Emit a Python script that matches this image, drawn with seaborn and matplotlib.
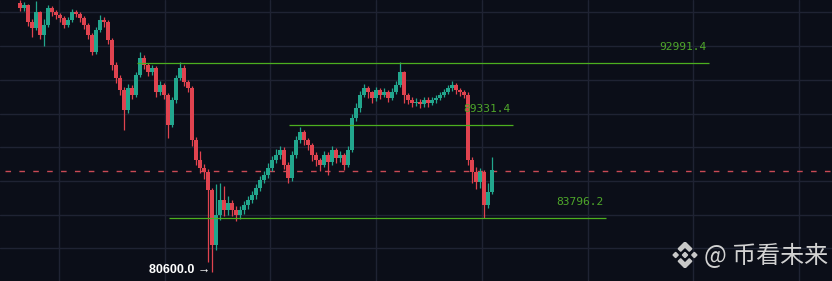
import numpy as np
import pandas as pd
import matplotlib
matplotlib.use("Agg")
import matplotlib.pyplot as plt
from matplotlib.patches import Polygon
import seaborn as sns

# ---- data (prices in thousand USDT) ----
first_open = 96.55
closes = [96.26, 96.43, 95.43, 95.07, 96.02, 94.65, 95.25, 96.26, 96.02, 95.84,
          95.66, 95.25, 95.54, 96.02, 95.90, 95.66, 95.25, 94.65, 93.65, 94.95,
          95.54, 95.43, 94.36, 92.88, 92.10, 91.39, 90.21, 91.51, 91.10, 92.28,
          93.29, 92.88, 92.46, 92.70, 91.27, 91.69, 91.10, 89.32, 90.80, 92.10,
          92.70, 91.87, 91.51, 88.43, 87.24, 86.77, 86.53, 85.46, 82.20, 83.98,
          84.87, 84.28, 84.69, 84.28, 83.98, 84.28, 84.57, 84.87, 85.17, 85.58,
          86.06, 86.35, 86.77, 87.24, 87.54, 87.84, 86.95, 86.17, 87.54, 88.43,
          88.90, 88.43, 88.13, 87.54, 87.24, 86.95, 87.54, 87.12, 87.84, 87.36,
          87.54, 86.95, 87.84, 89.73, 90.33, 91.10, 91.51, 91.27, 90.92, 91.39,
          91.10, 91.27, 90.92, 91.27, 91.69, 92.46, 91.10, 90.80, 90.62, 90.68,
          90.56, 90.80, 90.62, 90.80, 90.92, 91.10, 91.27, 91.51, 91.69, 91.39,
          91.27, 91.10, 87.24, 86.53, 85.94, 86.53, 84.57, 85.34, 86.65]
highs = [96.73, 96.60, 96.50, 95.60, 96.70, 96.10, 95.60, 96.45, 96.40, 96.15,
         95.95, 95.80, 95.70, 96.20, 96.15, 96.00, 95.80, 95.35, 94.80, 95.15,
         95.85, 95.70, 95.55, 94.50, 93.05, 92.30, 91.55, 91.75, 91.70, 92.45,
         93.65, 93.45, 93.00, 92.90, 92.80, 91.90, 91.80, 91.20, 91.00, 92.30,
         93.05, 92.85, 92.00, 91.65, 88.60, 87.80, 87.00, 86.70, 85.60, 85.80,
         85.90, 85.70, 85.10, 84.90, 84.50, 84.50, 84.80, 85.10, 85.40, 85.80,
         86.30, 86.60, 87.05, 87.50, 87.90, 88.10, 88.00, 87.10, 87.75, 88.65,
         89.20, 89.05, 88.55, 88.25, 87.70, 87.35, 87.75, 87.70, 88.05, 87.95,
         87.80, 87.65, 88.05, 89.95, 90.60, 91.35, 91.75, 91.65, 91.35, 91.60,
         91.50, 91.50, 91.40, 91.50, 91.90, 93.05, 92.55, 91.20, 90.95, 90.90,
         90.85, 91.00, 90.95, 91.00, 91.10, 91.30, 91.45, 91.70, 91.90, 91.80,
         91.50, 91.40, 91.25, 87.40, 86.80, 86.75, 86.65, 85.90, 87.42]
lows = [96.10, 96.05, 95.20, 94.55, 94.95, 94.40, 94.00, 95.10, 95.80, 95.60,
        95.40, 95.05, 95.10, 95.45, 95.70, 95.45, 95.00, 94.40, 93.45, 93.55,
        94.85, 95.10, 94.10, 92.60, 91.80, 91.10, 89.02, 90.05, 90.85, 90.95,
        92.15, 92.65, 92.20, 92.30, 91.00, 91.10, 90.85, 88.55, 89.20, 90.65,
        92.00, 91.65, 91.30, 88.10, 86.95, 86.45, 86.10, 81.19, 80.60, 81.90,
        83.70, 83.95, 84.00, 83.95, 83.60, 83.75, 84.05, 84.35, 84.70, 84.95,
        85.40, 85.90, 86.15, 86.60, 87.05, 87.30, 86.70, 85.90, 86.00, 87.35,
        88.25, 88.15, 87.85, 87.20, 86.90, 86.60, 86.80, 86.35, 86.95, 87.05,
        87.10, 86.65, 86.80, 87.70, 89.55, 90.10, 91.00, 90.90, 90.60, 90.75,
        90.85, 90.95, 90.70, 90.80, 91.15, 91.55, 90.60, 90.55, 90.40, 90.45,
        90.35, 90.40, 90.40, 90.50, 90.65, 90.80, 91.00, 91.15, 91.35, 91.15,
        91.05, 90.90, 86.95, 85.90, 85.50, 85.60, 83.80, 84.40, 85.20]

levels = [92991.4, 89331.4, 83796.2]
level_labels = ["92991.4", "89331.4", "83796.2"]
level_start = [29.25, 67.25, 37.25]
level_end = [172.25, 123.25, 146.5]
dash_level = 86590.0
low_value = 80600.0
low_index = 48
low_label = "80600.0 \u2192"
watermark = "@ 币看未来"

# ---- styling ----
BG = "#0b0e18"
GRID = "#1f2333"
UP = "#22a68d"
DOWN = "#e0434f"
LEVEL = "#4caf1f"
LEVEL_TXT = "#4ea62a"

sns.set_theme(style="dark", rc={"axes.facecolor": BG, "figure.facecolor": BG})
plt.rcParams["font.family"] = ["Noto Sans CJK SC", "DejaVu Sans"]

opens = [first_open] + closes[:-1]
df = pd.DataFrame({
    "i": np.arange(len(closes)),
    "open": np.array(opens) * 1000,
    "close": np.array(closes) * 1000,
    "high": np.array(highs) * 1000,
    "low": np.array(lows) * 1000,
})
df["up"] = df["close"] >= df["open"]
df["color"] = np.where(df["up"], UP, DOWN)
df["body_lo"] = df[["open", "close"]].min(axis=1)
df["body_h"] = (df["close"] - df["open"]).abs().clip(lower=60)

fig = plt.figure(figsize=(8.32, 2.81), dpi=100)
ax = fig.add_axes([0, 0, 1, 1])
ax.set_facecolor(BG)

ax.set_xticks(np.arange(9.75, 203, 26.425))
ax.set_yticks(np.arange(80000, 98001, 2000))
ax.set_xlim(-5, 203)
ax.set_ylim(80070, 96730)
ax.tick_params(length=0, labelleft=False, labelbottom=False)
ax.grid(True, color=GRID, linewidth=1.0)
for s in ax.spines.values():
    s.set_visible(False)

# dashed reference line
ax.axhline(dash_level, xmin=5 / 832, xmax=1, color="#c94a55",
           linewidth=1.0, dashes=(4.0, 6.0), zorder=2)

# candles
ax.vlines(df["i"], df["low"], df["high"], colors=df["color"], linewidth=0.9, zorder=3)
ax.bar(df["i"], df["body_h"], bottom=df["body_lo"], width=0.8,
       color=df["color"], linewidth=0, zorder=4)

# level lines and labels
for lv, lab, x0, x1 in zip(levels, level_labels, level_start, level_end):
    ax.hlines(lv, x0, x1, color=LEVEL, linewidth=0.9, zorder=5)
    ax.annotate(lab, xy=(x1 - 0.6, lv), xytext=(0, 11.5), textcoords="offset points",
                ha="right", va="center", color=LEVEL_TXT, fontsize=8.1,
                family=["DejaVu Sans Mono"], zorder=6)

# low label
ax.annotate(low_label, xy=(low_index - 0.4, low_value), xytext=(0, 1.5),
            textcoords="offset points", ha="right", va="center", color="white",
            fontsize=9, fontweight="bold", family=["Liberation Sans", "DejaVu Sans"],
            zorder=6)

# watermark text
fig.text(704 / 832, 1 - 256 / 281, watermark, color="#d2d2d2", fontsize=17.3,
         ha="left", va="center", family=["Noto Sans CJK SC", "DejaVu Sans"])

# binance-like logo
lax = fig.add_axes([672 / 832, 1 - 268 / 281, 26 / 832, 26 / 281])
lax.set_xlim(-1, 1)
lax.set_ylim(-1, 1)
lax.axis("off")
lc = "#c8c8c8"
def diamond(cx, cy, r):
    return [(cx, cy + r), (cx + r, cy), (cx, cy - r), (cx - r, cy)]
for cx, cy in [(0, 0), (-0.72, 0), (0.72, 0)]:
    lax.add_patch(Polygon(diamond(cx, cy, 0.2), closed=True, color=lc))
top = [(0, 1.0), (0.52, 0.48), (0.33, 0.29), (0, 0.62), (-0.33, 0.29), (-0.52, 0.48)]
bot = [(x, -y) for x, y in top]
lax.add_patch(Polygon(top, closed=True, color=lc))
lax.add_patch(Polygon(bot, closed=True, color=lc))

fig.savefig("out.png", dpi=100, facecolor=BG)
